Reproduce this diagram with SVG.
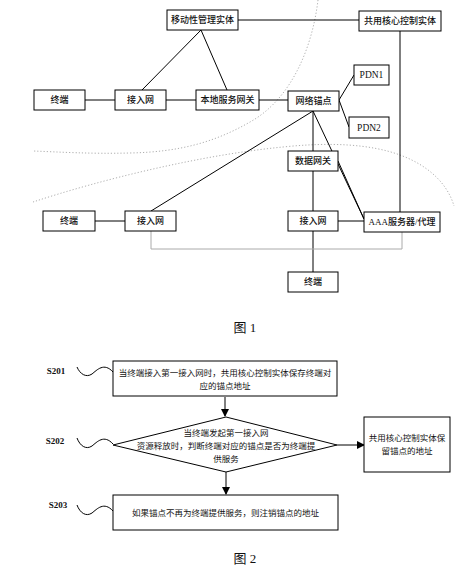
<svg xmlns="http://www.w3.org/2000/svg" width="474" height="566" viewBox="0 0 474 566">
<style>
.box{fill:#fff;stroke:#000;stroke-width:1}
.t{font-family:"Liberation Serif","Noto Sans CJK SC",serif;font-size:8.5px;fill:#111;text-anchor:middle;dominant-baseline:central}
.n{font-family:"Liberation Serif","Noto Sans CJK SC",serif;font-size:9px;font-weight:500;fill:#111;text-anchor:middle;dominant-baseline:central}
.p{font-family:"Liberation Serif","Noto Sans CJK SC",serif;font-size:9.5px;fill:#111;text-anchor:middle;dominant-baseline:central}
.lbl{font-family:"Liberation Serif","Noto Sans CJK SC",serif;font-size:9px;font-weight:bold;fill:#111;text-anchor:middle;dominant-baseline:central}
.cap{font-family:"Liberation Serif","Noto Sans CJK SC",serif;font-size:13px;fill:#111;text-anchor:middle;dominant-baseline:central}
.ln{fill:none;stroke:#000;stroke-width:1}
.gray{fill:none;stroke:#aaa;stroke-width:1}
.dot{fill:none;stroke:#999;stroke-width:0.8;stroke-dasharray:1.2 2}
</style>
<defs>
<marker id="arr" markerWidth="8" markerHeight="8" refX="7" refY="4" orient="auto" markerUnits="userSpaceOnUse">
<path d="M0,0 L8,4 L0,8 Z" fill="#000"/>
</marker>
</defs>
<rect width="474" height="566" fill="#fff"/>

<g id="regions">
<path class="dot" d="M318,0 C312,50 290,100 250,122 C215,142 180,152 130,153 C90,154 60,152 33,151"/>
<path class="dot" d="M33,202 C100,180 200,155 283,147 C330,142 370,144 400,155 C430,166 448,185 454,206"/>
</g>

<g id="connectors">
<line class="ln" x1="238" y1="20" x2="359" y2="20"/>
<line class="ln" x1="85" y1="100" x2="115" y2="100"/>
<line class="ln" x1="166" y1="100" x2="196" y2="100"/>
<line class="ln" x1="259" y1="100" x2="288" y2="100"/>
<line class="ln" x1="201" y1="30" x2="142" y2="90"/>
<line class="ln" x1="201" y1="30" x2="227" y2="90"/>
<line class="ln" x1="339" y1="100" x2="354" y2="75"/>
<line class="ln" x1="339" y1="100" x2="349" y2="127"/>
<line class="ln" x1="400" y1="31" x2="400" y2="212"/>
<line class="ln" x1="313" y1="111" x2="151" y2="211"/>
<line class="ln" x1="313" y1="111" x2="313" y2="151"/>
<line class="ln" x1="313" y1="111" x2="364" y2="219"/>
<line class="ln" x1="338" y1="161" x2="364" y2="219"/>
<line class="ln" x1="313" y1="171" x2="313" y2="211"/>
<line class="ln" x1="95" y1="221" x2="125" y2="221"/>
<line class="ln" x1="338" y1="221" x2="364" y2="221"/>
<line class="ln" x1="313" y1="231" x2="313" y2="272"/>
<polyline class="gray" points="151,231 151,249 402,249 402,232"/>

<line class="ln" x1="225" y1="397" x2="225" y2="416" marker-end="url(#arr)"/>
<line class="ln" x1="337" y1="445" x2="364" y2="445" marker-end="url(#arr)"/>
<line class="ln" x1="226" y1="472" x2="226" y2="494" marker-end="url(#arr)"/>
<path class="ln" d="M77,367 C80,374 86,378 92,374 C97,370 104,362 113,372"/>
<path class="ln" d="M77,438 C80,446 86,450 92,446 C97,442 104,434 113,444"/>
<path class="ln" d="M77,505 C80,513 86,517 92,513 C97,509 104,501 113,511"/>
</g>

<g id="mme"><rect class="box" x="167" y="10" width="71" height="20"/><text class="n" x="202.5" y="20">移动性管理实体</text></g>
<g id="core"><rect class="box" x="359" y="11" width="82" height="20"/><text class="n" x="400" y="21">共用核心控制实体</text></g>
<g id="term1"><rect class="box" x="34" y="90" width="51" height="20"/><text class="n" x="59.5" y="100">终端</text></g>
<g id="an1"><rect class="box" x="115" y="90" width="51" height="20"/><text class="n" x="140.5" y="100">接入网</text></g>
<g id="lgw"><rect class="box" x="196" y="90" width="63" height="20"/><text class="n" x="227.5" y="100">本地服务网关</text></g>
<g id="anchor"><rect class="box" x="288" y="91" width="51" height="20"/><text class="n" x="313.5" y="101">网络锚点</text></g>
<g id="pdn1"><rect class="box" x="354" y="65" width="35" height="20"/><text class="p" x="371.5" y="75">PDN1</text></g>
<g id="pdn2"><rect class="box" x="349" y="117" width="40" height="21"/><text class="p" x="369" y="127.5">PDN2</text></g>
<g id="dgw"><rect class="box" x="288" y="151" width="50" height="20"/><text class="n" x="313" y="161">数据网关</text></g>
<g id="term2"><rect class="box" x="43" y="211" width="52" height="20"/><text class="n" x="69" y="221">终端</text></g>
<g id="an2"><rect class="box" x="125" y="211" width="51" height="20"/><text class="n" x="150.5" y="221">接入网</text></g>
<g id="an3"><rect class="box" x="288" y="211" width="50" height="20"/><text class="n" x="313" y="221">接入网</text></g>
<g id="aaa"><rect class="box" x="364" y="212" width="76" height="20"/><text class="n" x="402" y="222">AAA服务器/代理</text></g>
<g id="term3"><rect class="box" x="288" y="272" width="50" height="20"/><text class="n" x="313" y="282">终端</text></g>

<text class="cap" x="245" y="327">图 1</text>

<g id="s201"><text class="lbl" x="56" y="371">S201</text>
<rect class="box" x="113" y="361" width="224" height="35"/>
<text class="t" x="225" y="373">当终端接入第一接入网时，共用核心控制实体保存终端对</text>
<text class="t" x="225" y="386">应的锚点地址</text></g>
<g id="s202"><text class="lbl" x="55" y="441">S202</text>
<polygon class="box" points="226,417 337,445 226,472 113,445"/>
<text class="t" x="226" y="433">当终端发起第一接入网</text>
<text class="t" x="226" y="446">资源释放时，判断终端对应的锚点是否为终端提</text>
<text class="t" x="226" y="459">供服务</text></g>
<g id="keep"><rect class="box" x="364" y="417" width="86" height="55"/>
<text class="t" x="407" y="438">共用核心控制实体保</text>
<text class="t" x="407" y="451">留锚点的地址</text></g>
<g id="s203"><text class="lbl" x="58" y="505">S203</text>
<rect class="box" x="113" y="495" width="225" height="35"/>
<text class="t" x="225.5" y="513">如果锚点不再为终端提供服务，则注销锚点的地址</text></g>

<text class="cap" x="245" y="558">图 2</text>
</svg>
